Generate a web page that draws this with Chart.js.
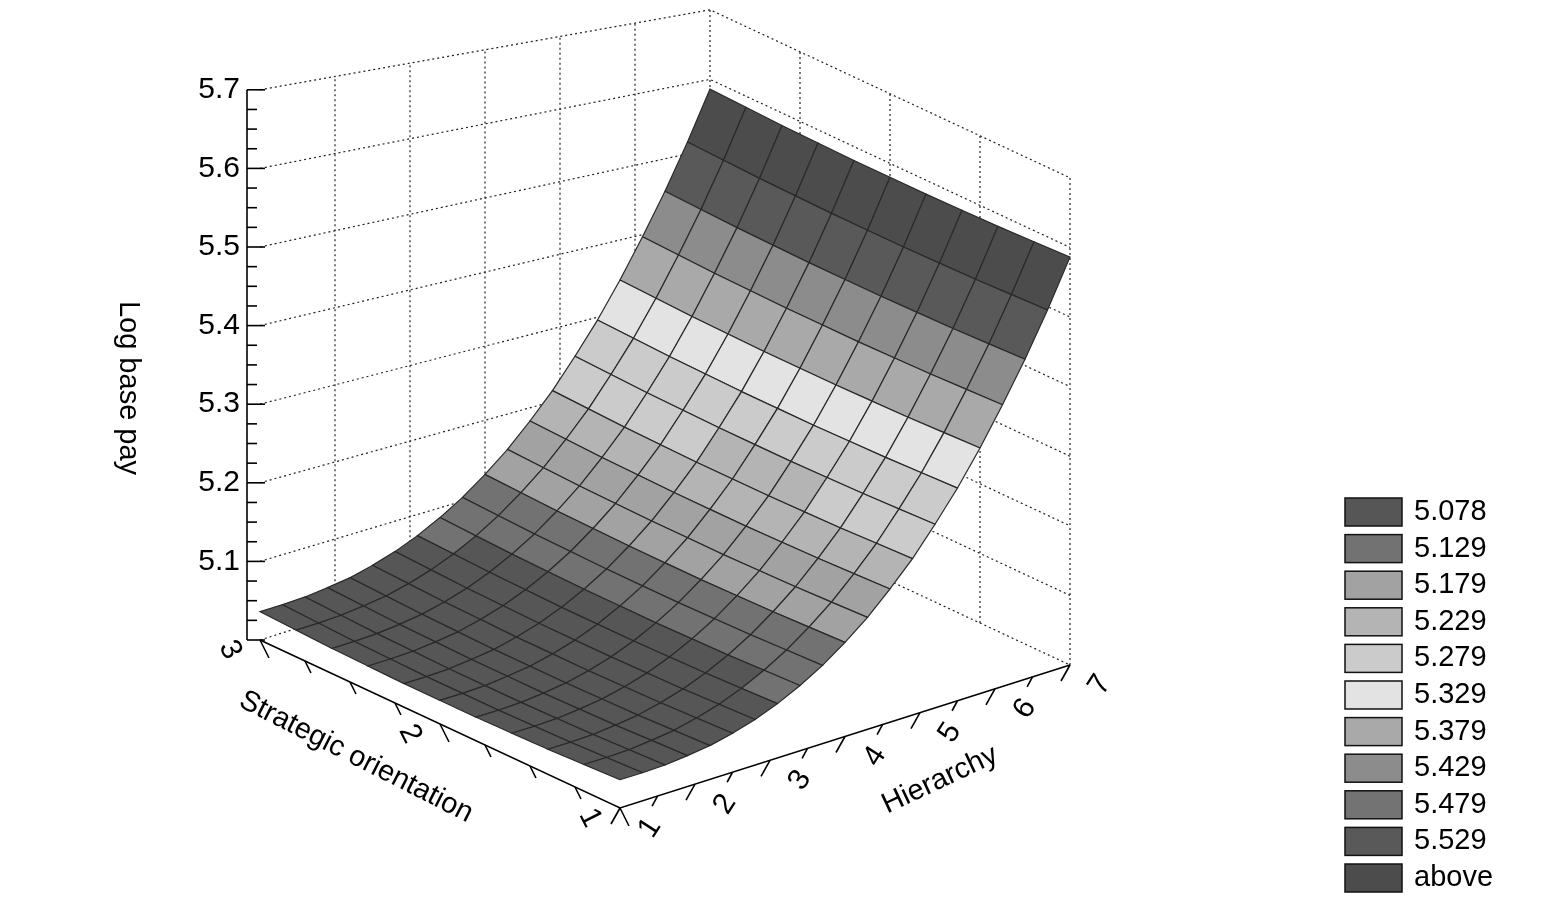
<!DOCTYPE html>
<html><head><meta charset="utf-8">
<script src="https://cdn.jsdelivr.net/npm/chart.js@4"></script>
<style>html,body{margin:0;background:#fff}#w{width:1551px;height:917px}</style>
</head><body><div id="w"><canvas id="c"></canvas></div>
<script>
// ---- data ----
const hierarchyGrid = [1,1.3,1.6,1.9,2.2,2.5,2.8,3.1,3.4,3.7,4,4.3,4.6,4.9,5.2,5.5,5.8,6.1,6.4,6.7,7];
const payByHierarchy = [5.030,5.030,5.031,5.034,5.038,5.045,5.054,5.066,5.081,5.099,5.121,5.146,5.176,5.209,5.248,5.290,5.338,5.391,5.448,5.511,5.580];
const orientationGrid = [1,1.2,1.4,1.6,1.8,2,2.2,2.4,2.6,2.8,3];
const orientationShift = [0.006,0.004,0.002,0.001,0.000,0.000,0.000,0.001,0.002,0.004,0.006];
const zTicks = [5.1,5.2,5.3,5.4,5.5,5.6,5.7];
const hierarchyTicks = [1,2,3,4,5,6,7];
const orientationTicks = [1,2,3];
const legendLevels = ['5.078','5.129','5.179','5.229','5.279','5.329','5.379','5.429','5.479','5.529','above'];
const legendColors = ['#565656','#727272','#a2a2a2','#b4b4b4','#cbcbcb','#e3e3e3','#a9a9a9','#8c8c8c','#737373','#595959','#4c4c4c'];
const thresholds = [5.078,5.129,5.179,5.229,5.279,5.329,5.379,5.429,5.479,5.529];

// ---- projection of (hierarchy, orientation, pay) into plot space ----
function proj(h,o,z){
  const fh=(h-1)/6, fo=(o-1)/2, k=786-90*fh;
  return {x:620+450*fh-360*fo, y:808-143*fh-168*fo-(z-5)*k};
}
function colorFor(z){ for(let i=0;i<thresholds.length;i++) if(z<=thresholds[i]) return legendColors[i]; return legendColors[10]; }
const ds=[];
function line(pts,o){ ds.push(Object.assign({type:'line',data:pts,pointRadius:0,borderWidth:1.3,borderColor:'#000',fill:false,tension:0,order:0},o)); }

// walls grid (dotted)
const dot={borderDash:[2,3],borderColor:'#222',borderWidth:1.2,order:100000};
zTicks.forEach(z=>{ line([proj(1,3,z),proj(7,3,z),proj(7,1,z)],dot); });
hierarchyTicks.slice(1).forEach(h=>line([proj(h,3,5),proj(h,3,5.7)],dot));
[1,1.5,2,2.5].forEach(o=>line([proj(7,o,5),proj(7,o,5.7)],dot));
line([proj(1,3,5),proj(7,3,5),proj(7,1,5)],Object.assign({},dot));

// surface quads
for(let i=0;i<hierarchyGrid.length-1;i++){
  for(let j=0;j<orientationGrid.length-1;j++){
    const z=(a,b)=>payByHierarchy[a]+orientationShift[b];
    const zc=(z(i,j)+z(i+1,j)+z(i,j+1)+z(i+1,j+1))/4;
    const pts=[proj(hierarchyGrid[i],orientationGrid[j],z(i,j)),proj(hierarchyGrid[i+1],orientationGrid[j],z(i+1,j)),
      proj(hierarchyGrid[i+1],orientationGrid[j+1],z(i+1,j+1)),proj(hierarchyGrid[i],orientationGrid[j+1],z(i,j+1)),
      proj(hierarchyGrid[i],orientationGrid[j],z(i,j))];
    const depth=i/20+j/10;
    line(pts,{fill:'shape',backgroundColor:colorFor(zc),borderColor:'#2a2a2a',borderWidth:1.2,order:1000+Math.round(depth*1000)});
  }
}
// axes (solid)
const solid={borderColor:'#000',borderWidth:1.6,order:-1};
line([proj(1,3,5),proj(1,1,5),proj(7,1,5)],solid);
const la=proj(1,3,5); 
line([{x:la.x-13,y:la.y},{x:la.x-13,y:proj(1,3,5.7).y}],solid);
for(let z=5.0;z<=5.7001;z+=0.025){const p=proj(1,3,z);const big=Math.abs(z*10-Math.round(z*10))<1e-6;line([{x:p.x-13,y:p.y},{x:p.x-13+(big?18:10),y:p.y}],solid);}
for(let h=1;h<=7.001;h+=0.5){const p=proj(h,1,5);const big=Number.isInteger(h);line([p,{x:p.x+(big?-10:-6)*0.9,y:p.y+(big?16:10)}],solid);}
for(let o=1;o<=3.001;o+=0.25){const p=proj(1,o,5);const big=Number.isInteger(o);line([p,{x:p.x+(big?18:12)*0.5,y:p.y+(big?18:12)}],solid);}

const textPlugin={id:'txt',afterDraw(c){
  const ctx=c.ctx, X=v=>c.scales.x.getPixelForValue(v), Y=v=>c.scales.y.getPixelForValue(v);
  ctx.save(); ctx.fillStyle='#000'; ctx.font='30px "Liberation Sans", Arial'; ctx.textBaseline='middle';
  ctx.textAlign='right';
  zTicks.forEach(z=>{const p=proj(1,3,z);ctx.fillText(z.toFixed(1),X(p.x-20),Y(p.y));});
  ctx.textAlign='center';
  hierarchyTicks.forEach(h=>{const p=proj(h,1,5);ctx.save();ctx.translate(X(p.x+30),Y(p.y+20));ctx.rotate(-1.0);ctx.fillText(String(h),0,0);ctx.restore();});
  orientationTicks.forEach(o=>{const p=proj(1,o,5);ctx.save();ctx.translate(X(p.x-30),Y(p.y+10));ctx.rotate(1.1);ctx.fillText(String(o),0,0);ctx.restore();});
  ctx.font='29px "Liberation Sans", Arial';
  ctx.save();ctx.translate(X(940),Y(780));ctx.rotate(-0.44);ctx.fillText('Hierarchy',0,0);ctx.restore();
  ctx.save();ctx.translate(X(356),Y(757));ctx.rotate(0.47);ctx.fillText('Strategic orientation',0,0);ctx.restore();
  ctx.save();ctx.translate(X(128),Y(388));ctx.rotate(Math.PI/2);ctx.fillText('Log base pay',0,0);ctx.restore();
  // legend
  ctx.textAlign='left'; ctx.font='29px "Liberation Sans", Arial';
  legendLevels.forEach((l,i)=>{const y=498+i*36.6;ctx.fillStyle=legendColors[i];ctx.fillRect(X(1345),Y(y),57,28);
    ctx.strokeStyle='#111';ctx.lineWidth=1.5;ctx.strokeRect(X(1345),Y(y),57,28);ctx.fillStyle='#000';ctx.fillText(l,X(1414),Y(y+14));});
  ctx.restore();
}};
new Chart(document.getElementById('c'),{type:'scatter',data:{datasets:ds},plugins:[textPlugin],
 options:{animation:false,responsive:true,maintainAspectRatio:false,layout:{padding:0},
  plugins:{legend:{display:false},tooltip:{enabled:false}},
  scales:{x:{type:'linear',min:0,max:1551,display:false},y:{type:'linear',min:0,max:917,reverse:true,display:false}}}});
</script></body></html>
